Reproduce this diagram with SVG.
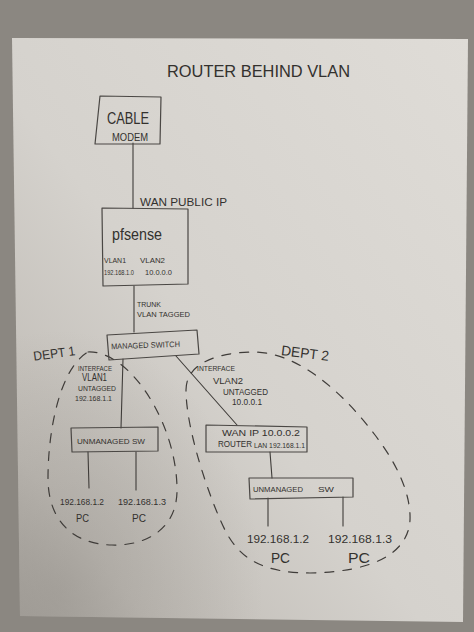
<svg xmlns="http://www.w3.org/2000/svg" width="474" height="632" viewBox="0 0 474 632">
<defs>
<linearGradient id="paper" x1="1" y1="0" x2="0" y2="1">
<stop offset="0" stop-color="#dfdcd7"/>
<stop offset="0.55" stop-color="#d5d2cd"/>
<stop offset="0.85" stop-color="#c0bcb6"/>
<stop offset="1" stop-color="#a7a39d"/>
</linearGradient>
<radialGradient id="shade" cx="0.1" cy="0.95" r="0.45">
<stop offset="0" stop-color="#8f8b85" stop-opacity="0.45"/>
<stop offset="1" stop-color="#8f8b85" stop-opacity="0"/>
</radialGradient>
</defs>
<style>
.bx{fill:none;stroke:#4a4744;stroke-width:1.2;stroke-linejoin:round}
.ln{fill:none;stroke:#3f3c39;stroke-width:1.1;stroke-linecap:round}
.dash{fill:none;stroke:#3f3c39;stroke-width:1.2;stroke-dasharray:9 9;stroke-linecap:round}
text{font-family:"Liberation Sans","DejaVu Sans",sans-serif;fill:#33312e}
.s8{font-size:8px}
.s9{font-size:9px}
.s11{font-size:11px}
.s14{font-size:14px}
</style>
<rect x="0" y="0" width="474" height="632" fill="#8b8781"/>
<polygon points="12,38 468,39 463,622 20,616" fill="url(#paper)"/>
<polygon points="12,38 468,39 463,622 20,616" fill="url(#shade)"/>

<text x="167" y="77" font-size="16" textLength="183" lengthAdjust="spacingAndGlyphs">ROUTER  BEHIND  VLAN</text>

<g id="connectors">
<line class="ln" x1="133" y1="143" x2="133" y2="208"/>
<line class="ln" x1="134" y1="286" x2="134" y2="332"/>
<line class="ln" x1="123" y1="359" x2="121" y2="428"/>
<line class="ln" x1="176" y1="356" x2="237" y2="425"/>
<line class="ln" x1="270" y1="452" x2="272" y2="478"/>
<line class="ln" x1="88" y1="452" x2="89" y2="488"/>
<line class="ln" x1="136" y1="452" x2="136" y2="490"/>
<line class="ln" x1="268" y1="498" x2="268" y2="526"/>
<line class="ln" x1="343" y1="497" x2="343" y2="526"/>
</g>

<g id="dept1-zone">
<path class="dash" d="M 88 352 C 130 350 178 425 177 492 C 176 530 145 546 112 545 C 72 544 48 520 48 478 C 48 430 60 368 88 352 Z"/>
<text x="33" y="358" font-size="13" textLength="42" lengthAdjust="spacingAndGlyphs" transform="rotate(-8 54 352)">DEPT 1</text>
</g>

<g id="dept2-zone">
<path class="dash" d="M 186 390 C 186 362 220 352 255 352 C 300 353 345 395 375 435 C 398 465 411 495 410 520 C 408 555 370 572 310 573 C 265 573 240 560 225 530 C 210 500 186 430 186 390 Z"/>
<text x="281" y="358" font-size="14" textLength="48" lengthAdjust="spacingAndGlyphs" transform="rotate(7 305 354)">DEPT 2</text>
</g>

<g id="link-labels">
<text class="s11" x="140" y="206" textLength="87" lengthAdjust="spacingAndGlyphs">WAN PUBLIC IP</text>
<text class="s8" x="137" y="307" textLength="24" lengthAdjust="spacingAndGlyphs">TRUNK</text>
<text class="s8" x="137" y="317" textLength="53" lengthAdjust="spacingAndGlyphs">VLAN TAGGED</text>
</g>

<g id="cable-modem">
<polygon class="bx" points="100,96 161,97 160,144 95,144"/>
<text x="107" y="124" font-size="16" textLength="42" lengthAdjust="spacingAndGlyphs">CABLE</text>
<text x="112" y="141" font-size="11" textLength="36" lengthAdjust="spacingAndGlyphs">MODEM</text>
</g>

<g id="pfsense">
<polygon class="bx" points="102,208 188,209 188,284 103,286"/>
<text x="112" y="240" font-size="17" textLength="50" lengthAdjust="spacingAndGlyphs">pfsense</text>
<text class="s8" x="104" y="263" textLength="22" lengthAdjust="spacingAndGlyphs">VLAN1</text>
<text class="s8" x="140" y="263" textLength="25" lengthAdjust="spacingAndGlyphs">VLAN2</text>
<text x="104" y="275" font-size="7" textLength="30" lengthAdjust="spacingAndGlyphs">192.168.1.0</text>
<text x="145" y="275" font-size="7" textLength="27" lengthAdjust="spacingAndGlyphs">10.0.0.0</text>
</g>

<g id="managed-switch">
<polygon class="bx" points="107,335 197,330 199,354 109,360"/>
<text class="s8" x="111" y="348" textLength="69" lengthAdjust="spacingAndGlyphs" transform="rotate(-2 145 345)">MANAGED SWITCH</text>
</g>

<g id="dept1-interface">
<text class="s8" x="78" y="371" textLength="34" lengthAdjust="spacingAndGlyphs">INTERFACE</text>
<text x="82" y="381" font-size="10" textLength="25" lengthAdjust="spacingAndGlyphs">VLAN1</text>
<text class="s8" x="78" y="391" textLength="38" lengthAdjust="spacingAndGlyphs">UNTAGGED</text>
<text class="s8" x="75" y="401" textLength="37" lengthAdjust="spacingAndGlyphs">192.168.1.1</text>
</g>

<g id="dept1-unmanaged-sw">
<polygon class="bx" points="71,428 158,427 158,451 72,452"/>
<text class="s8" x="77" y="444" textLength="68" lengthAdjust="spacingAndGlyphs">UNMANAGED SW</text>
</g>

<g id="dept1-pc1">
<text class="s9" x="60" y="505" textLength="44" lengthAdjust="spacingAndGlyphs">192.168.1.2</text>
<text class="s11" x="76" y="522" textLength="13" lengthAdjust="spacingAndGlyphs">PC</text>
</g>
<g id="dept1-pc2">
<text class="s9" x="118" y="505" textLength="48" lengthAdjust="spacingAndGlyphs">192.168.1.3</text>
<text class="s11" x="132" y="522" textLength="14" lengthAdjust="spacingAndGlyphs">PC</text>
</g>

<g id="dept2-interface">
<text class="s8" x="197" y="371" textLength="38" lengthAdjust="spacingAndGlyphs">INTERFACE</text>
<text class="s9" x="213" y="384" textLength="30" lengthAdjust="spacingAndGlyphs">VLAN2</text>
<text class="s9" x="223" y="395" textLength="45" lengthAdjust="spacingAndGlyphs">UNTAGGED</text>
<text class="s9" x="232" y="405" textLength="30" lengthAdjust="spacingAndGlyphs">10.0.0.1</text>
</g>

<g id="router">
<polygon class="bx" points="206,425 307,427 307,452 206,452"/>
<text class="s9" x="222" y="436" textLength="78" lengthAdjust="spacingAndGlyphs">WAN IP  10.0.0.2</text>
<text class="s9" x="218" y="447" textLength="34" lengthAdjust="spacingAndGlyphs">ROUTER</text>
<text x="254" y="448" font-size="7" textLength="51" lengthAdjust="spacingAndGlyphs">LAN 192.168.1.1</text>
</g>

<g id="dept2-unmanaged-sw">
<polygon class="bx" points="249,478 353,478 353,497 250,499"/>
<text class="s8" x="253" y="492" textLength="50" lengthAdjust="spacingAndGlyphs">UNMANAGED</text>
<text class="s8" x="318" y="492" textLength="16" lengthAdjust="spacingAndGlyphs">SW</text>
</g>

<g id="dept2-pc1">
<text class="s11" x="247" y="543" textLength="62" lengthAdjust="spacingAndGlyphs">192.168.1.2</text>
<text class="s14" x="271" y="563" textLength="19" lengthAdjust="spacingAndGlyphs">PC</text>
</g>
<g id="dept2-pc2">
<text class="s11" x="328" y="543" textLength="64" lengthAdjust="spacingAndGlyphs">192.168.1.3</text>
<text class="s14" x="348" y="563" textLength="22" lengthAdjust="spacingAndGlyphs">PC</text>
</g>
</svg>
